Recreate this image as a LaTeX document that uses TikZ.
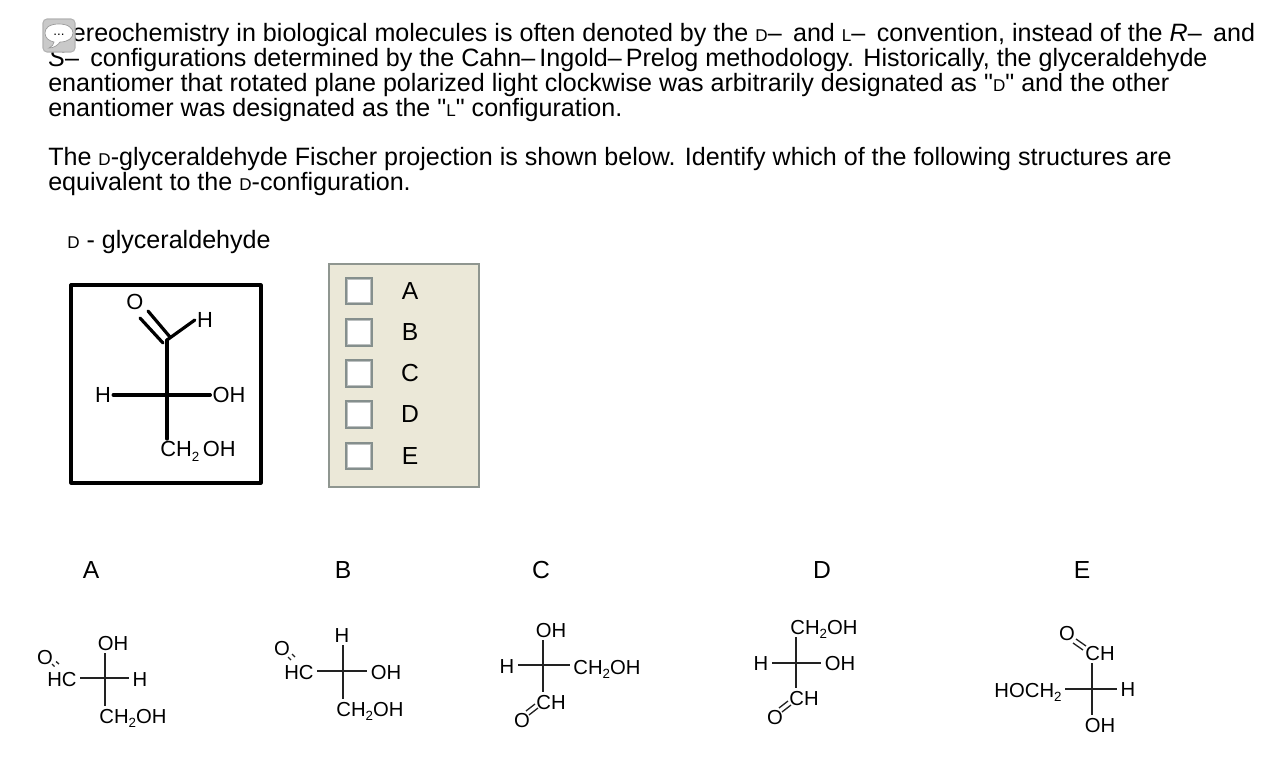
\documentclass[tikz,border=0pt]{standalone}
\usepackage{fontspec}
\setmainfont{Liberation Sans}
\newfontfamily\plainfont{Liberation Sans}
\usetikzlibrary{calc}
\definecolor{panelfill}{HTML}{EBE8D8}
\definecolor{panelline}{HTML}{8F9690}
\definecolor{tickouter}{HTML}{858F8D}
\definecolor{tickinner}{HTML}{BCC0C0}
\definecolor{iconfill}{HTML}{C9C9C9}
\definecolor{bondcol}{HTML}{222222}
\newcommand{\bodyfont}{\fontsize{18.82pt}{19pt}\selectfont}
\newcommand{\scd}[1]{{\fontsize{12.8pt}{13pt}\selectfont #1}}
\newcommand{\subtwo}{\raisebox{-3.2pt}{\fontsize{10pt}{10pt}\selectfont 2}}
\newcommand{\qt}{{\plainfont "}}
\newcommand{\gapd}{\hspace{3.3pt}}
\tikzset{
  x=0.75pt,y=-0.75pt,
  bodyline/.style={anchor=base west,inner sep=0pt,font=\bodyfont},
  letter/.style={anchor=center,inner sep=0pt,font=\fontsize{18.5pt}{19pt}\selectfont},
  chem/.style={anchor=center,inner xsep=2.5pt,inner ysep=2.2pt,text height=10.6pt,text depth=0pt,font=\fontsize{15.2pt}{16pt}\selectfont},
  bigchem/.style={anchor=center,inner xsep=1.5pt,inner ysep=1.5pt,text height=11.6pt,text depth=0pt,font=\fontsize{16.4pt}{17pt}\selectfont},
  bond/.style={draw=bondcol,line width=1pt},
  heavybond/.style={draw=black,line width=2.4pt,line cap=round},
  framebox/.style={draw=black,line width=2.4pt,line join=round},
  panelbox/.style={draw=panelline,line width=2pt,fill=panelfill},
  tick/.style={draw=tickouter,line width=1.5pt,fill=white,minimum size=20pt,inner sep=0pt,anchor=center,
    path picture={\draw[draw=tickinner,line width=3.4pt] (path picture bounding box.south west) rectangle (path picture bounding box.north east);}}
}
\begin{document}
\begin{tikzpicture}
\useasboundingbox (0,0) rectangle (1278,778);
% body text
\node[bodyline] (l1) at (48,41) {Stereochemistry in biological molecules is often denoted by the \scd{D}–\gapd{} and \scd{L}–\gapd{} convention, instead of the \textit{R}–\gapd{} and};
\node[bodyline] (l2) at (48,66) {\textit{S}–\gapd{} configurations determined by the Cahn–\,Ingold–\,Prelog methodology. Historically, the glyceraldehyde};
\node[bodyline] (l3) at (48,91) {enantiomer that rotated plane polarized light clockwise was arbitrarily designated as \qt\scd{D}\qt{} and the other};
\node[bodyline] (l4) at (48,116) {enantiomer was designated as the \qt\scd{L}\qt{} configuration.};
\node[bodyline] (l5) at (48,165) {The \scd{D}-glyceraldehyde Fischer projection is shown below. Identify which of the following structures are};
\node[bodyline] (l6) at (48,190) {equivalent to the \scd{D}-configuration.};
\node[bodyline] (l7) at (67,248) {\scd{D} - glyceraldehyde};
% comment icon
\draw[draw=black!30,fill=iconfill,line width=0.8pt,rounded corners=3pt] (43,19) rectangle (75,52);
\draw[draw=black!40,fill=white,line width=0.5pt] (59,24) .. controls (49,24) and (45,28) .. (45,33) .. controls (45,38) and (49,41) .. (54,42) .. controls (54,44) and (52,47) .. (49,48) .. controls (54,48) and (58,45) .. (60,42) .. controls (68,42) and (73,38) .. (73,33) .. controls (73,28) and (68,24) .. (59,24) -- cycle;
\node[inner sep=0pt,anchor=base,font=\fontsize{10pt}{10pt}\selectfont] (dots) at (59,36) {...};
% reference structure
\draw[framebox] (71,285) rectangle (261,483);
\node[bigchem] (mO) at (135,302) {O};
\node[bigchem] (mHa) at (205,320) {H};
\node[bigchem] (mHb) at (103,395) {H};
\node[bigchem] (mOH) at (229,395) {OH};
\node[bigchem] (mCH) at (198,449) {CH\subtwo\,OH};
\coordinate (mTop) at (167,340);
\coordinate (mC) at (167,395);
\draw[heavybond] (mTop) -- (mC |- mCH.north);
\draw[heavybond] (mHb.east |- mC) -- (mOH.west |- mC);
\draw[heavybond] (mTop) -- (mHa.west);
\draw[heavybond] (140,318) -- (163,343);
\draw[heavybond] (148,311) -- (170,337);
% answer panel
\draw[panelbox] (329,264) rectangle (479,487);
\foreach \n/\t/\yy in {a/A/291,b/B/332.5,c/C/373.5,d/D/414.5,e/E/456}{
  \node[tick] (box\n) at (359,\yy) {};
  \node[letter] (opt\n) at (410,\yy) {\t};
}
% headings
\node[letter] (hA) at (91,570) {A};
\node[letter] (hB) at (343,570) {B};
\node[letter] (hC) at (541,570) {C};
\node[letter] (hD) at (822,570) {D};
\node[letter] (hE) at (1082,570) {E};
% A
\coordinate (aC) at (105,678);
\node[chem] (aOH) at (113,643) {OH};
\node[chem] (aHC) at (62,679) {HC};
\node[chem] (aH) at (140,679) {H};
\node[chem] (aCH) at (133,716) {CH\subtwo OH};
\node[chem] (aO) at (45,657) {O};
\draw[bond] (aC) -- (aOH.south -| aC);
\draw[bond] (aC) -- (aCH.north -| aC);
\draw[bond] (aHC.east |- aC) -- (aH.west |- aC);
\draw[bond] (52,664) -- (54.5,666.5);
\draw[bond] (56,661.5) -- (59,664);
% B
\coordinate (bC) at (343,671);
\node[chem] (bH) at (342,635) {H};
\node[chem] (bHC) at (299,672) {HC};
\node[chem] (bOH) at (386,672) {OH};
\node[chem] (bCH) at (370,709) {CH\subtwo OH};
\node[chem] (bO) at (282,648) {O};
\draw[bond] (bC) -- (bH.south -| bC);
\draw[bond] (bC) -- (bCH.north -| bC);
\draw[bond] (bHC.east |- bC) -- (bOH.west |- bC);
\draw[bond] (288,657) -- (291,660);
\draw[bond] (292,654) -- (295,657);
% C
\coordinate (cC) at (543,665);
\node[chem] (cOH) at (551,630) {OH};
\node[chem] (cH) at (507,666) {H};
\node[chem] (cCH) at (607,667) {CH\subtwo OH};
\node[chem] (cCHb) at (551,702) {CH};
\node[chem] (cO) at (522,720) {O};
\draw[bond] (cC) -- (cOH.south -| cC);
\draw[bond] (cC) -- (cCHb.north -| cC);
\draw[bond] (cH.east |- cC) -- (cCH.west |- cC);
\draw[bond] (526,711) -- (535,704);
\draw[bond] (529,715) -- (538,708);
% D
\coordinate (dC) at (796,663);
\node[chem] (dCH) at (824,627) {CH\subtwo OH};
\node[chem] (dH) at (761,663) {H};
\node[chem] (dOH) at (840,663) {OH};
\node[chem] (dCHb) at (804,698) {CH};
\node[chem] (dO) at (775,717) {O};
\draw[bond] (dC) -- (dCH.south -| dC);
\draw[bond] (dC) -- (dCHb.north -| dC);
\draw[bond] (dH.east |- dC) -- (dOH.west |- dC);
\draw[bond] (779,708) -- (788,701);
\draw[bond] (782,712) -- (791,705);
% E
\coordinate (eC) at (1092,689);
\node[chem] (eCH) at (1100,653) {CH};
\node[chem] (eO) at (1067,633) {O};
\node[chem] (eHO) at (1028,690) {HOCH\subtwo};
\node[chem] (eH) at (1128,689) {H};
\node[chem] (eOH) at (1100,725) {OH};
\draw[bond] (eC) -- (eCH.south -| eC);
\draw[bond] (eC) -- (eOH.north -| eC);
\draw[bond] (eHO.east |- eC) -- (eH.west |- eC);
\draw[bond] (1076,639) -- (1086,646);
\draw[bond] (1073,643) -- (1083,650);
\end{tikzpicture}
\end{document}
